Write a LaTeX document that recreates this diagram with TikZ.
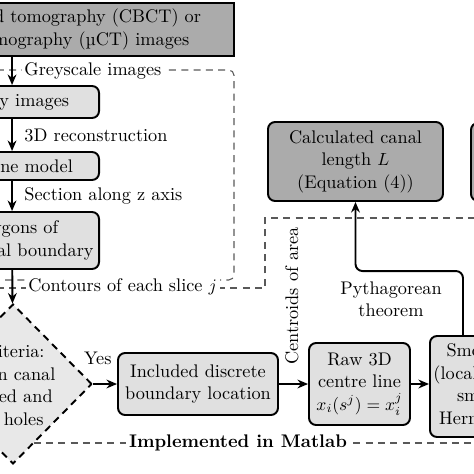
\documentclass[tikz,border=0pt]{standalone}
\usepackage{amsmath}
\usetikzlibrary{shapes.geometric, arrows.meta}

\definecolor{lightbox}{gray}{0.88}
\definecolor{darkbox}{gray}{0.67}
\definecolor{critfill}{gray}{0.91}

\begin{document}
\begin{tikzpicture}[x=0.02cm, y=-0.02cm,
    every node/.style={font=\fontsize{10.4}{12.8}\selectfont},
    proc/.style={draw, line width=1.1pt, rounded corners=4pt, fill=lightbox, align=center, inner sep=2pt},
    dark/.style={proc, fill=darkbox},
    flow/.style={-{Stealth[length=6pt,width=5pt]}, line width=1.1pt},
    region/.style={gray!70!black, dash pattern=on 4pt off 3pt, line width=0.6pt},
    lbl/.style={fill=white, inner sep=1.5pt}]
    %\draw[help lines, step=50] (0,0) grid (474,474);

    \useasboundingbox (0,0) rectangle (474,474);
    \clip (0,0) rectangle (474,474);

    % software regions
    \draw[region, rounded corners=3pt] (-200,70) -- (234,70) -- (234,280) -- (-200,280);
    \draw[region] (-200,288) -- (265,288) -- (265,218) -- (700,218);
    \draw[region] (-200,443) -- (700,443);

    % image processing
    \node[dark, rounded corners=0pt, anchor=east, minimum width=8.74cm, minimum height=1.06cm] (scan) at (235,29.5)
        {Cone beam computed tomography (CBCT) or\\micro-computed tomography (µCT) images};
    \node[proc, anchor=east, minimum width=3.48cm, minimum height=.64cm] (binary) at (100,102) {Binary images};
    \node[proc, anchor=east, minimum width=3.48cm, minimum height=.56cm] (model) at (100,166) {3D bone model};
    \node[proc, anchor=east, minimum width=3.48cm, minimum height=1.14cm] (poly) at (100,240.5) {Polygons of\\root canal boundary};

    \node[diamond, draw, dash pattern=on 4pt off 3pt, line width=1.1pt, fill=critfill,
        minimum width=3.16cm, minimum height=3.2cm, inner sep=0pt] (crit) at (13,384) {};
    \node[align=center] (crittext) at (11,385) {Criteria:\\Main canal\\closed and\\no holes};

    % centre line
    \node[proc, minimum width=3.2cm, minimum height=1.24cm] (incl) at (198,384) {Included discrete\\boundary location};
    \node[proc, minimum width=2.02cm, minimum height=1.64cm] (raw) at (359.5,384) {Raw 3D\\centre line\\$x_i(s^j) = x_i^j$};
    \node[proc, anchor=west, minimum height=2.02cm] (smooth) at (429,386.5)
        {Smoothed 3D\\(locally weighted\\smoothing,\\Hermite spline)};
    \node[dark, minimum width=3.5cm, minimum height=1.58cm] (calc) at (355.5,161.5) {Calculated canal\\length $L$\\(Equation (4))};
    \node[dark, anchor=north west, minimum width=3cm, minimum height=1.56cm] (curv) at (470,122) {};

    \draw[flow] (scan.south -| binary) -- node[lbl, anchor=west, xshift=5pt] {Greyscale images} (binary);
    \draw[flow] (binary) -- node[lbl, anchor=west, xshift=5pt] {3D reconstruction} (model);
    \draw[flow] (model) -- node[lbl, anchor=west, xshift=5pt] {Section along z axis} (poly);
    \draw[flow] (poly) -- node[lbl, anchor=west, xshift=7pt] {Contours of each slice $j$} (crit);
    \draw[flow] (crit) -- node[pos=.2, above=7pt] {Yes} (incl);
    \draw[flow] (incl) -- (raw);
    \draw[flow] (raw.east) -- (raw.east -| smooth.west);
    \draw[flow, rounded corners=4pt] ([xshift=.68cm]smooth.north west) -- ++(0,-64) -| (calc.south);

    \node[rotate=90] (centroids) at (292,296) {Centroids of area};
    \node[align=center] (pyth) at (391,299) {Pythagorean\\theorem};
    \node[lbl, font=\fontsize{10.4}{12.8}\selectfont\bfseries] (matlab) at (238,443) {Implemented in Matlab};
\end{tikzpicture}
\end{document}
